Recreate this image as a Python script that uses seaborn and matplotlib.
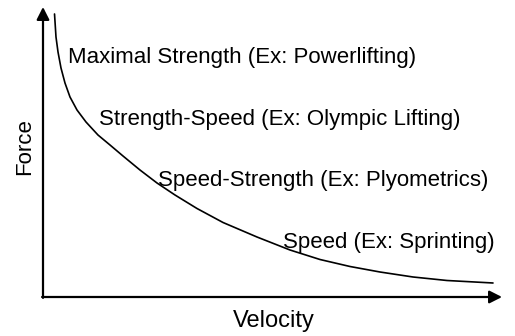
import matplotlib
matplotlib.use("Agg")
import matplotlib.pyplot as plt
import seaborn as sns
import pandas as pd

# Force-velocity curve (relative units, 0..1 on both axes)
velocity = [0.0251, 0.0283, 0.0327, 0.0392, 0.0479, 0.0588, 0.0741, 0.0937,
            0.1198, 0.1460, 0.1743, 0.2113, 0.2484, 0.2876, 0.3355, 0.3922,
            0.4662, 0.5381, 0.6035, 0.6688, 0.7342, 0.8061, 0.8802, 0.9804]
force = [0.9759, 0.8966, 0.8448, 0.7897, 0.7379, 0.6897, 0.6448, 0.6034,
         0.5586, 0.5241, 0.4862, 0.4379, 0.3931, 0.3517, 0.3052, 0.2569,
         0.2069, 0.1621, 0.1293, 0.1052, 0.0862, 0.0690, 0.0569, 0.0483]

zone_labels = ["Maximal Strength (Ex: Powerlifting)",
               "Strength-Speed (Ex: Olympic Lifting)",
               "Speed-Strength (Ex: Plyometrics)",
               "Speed (Ex: Sprinting)"]
zone_x = [0.0545, 0.122, 0.2505, 0.523]
zone_y = [0.807, 0.593, 0.383, 0.169]

x_label = "Velocity"
y_label = "Force"

sns.set_theme(style="white")
plt.rcParams["font.family"] = ["Liberation Sans", "DejaVu Sans"]

W, H = 515, 336
fig = plt.figure(figsize=(W / 100, H / 100), dpi=100)
fig.patch.set_facecolor("white")
ax = fig.add_axes([43 / W, (H - 297) / H, (502 - 43) / W, (297 - 7) / H])
ax.set_facecolor("white")

df = pd.DataFrame({"velocity": velocity, "force": force})
sns.lineplot(data=df, x="velocity", y="force", sort=False, color="black",
             linewidth=1.2, ax=ax)

ax.set_xlim(0, 1)
ax.set_ylim(0, 1)
for s in ["top", "right", "left", "bottom"]:
    ax.spines[s].set_visible(False)
ax.set_xticks([])
ax.set_yticks([])
ax.set_xlabel("")
ax.set_ylabel("")

# axes with arrow heads
arrow_style = dict(arrowstyle="-|>,head_length=0.75,head_width=0.38",
                   mutation_scale=10, lw=1.6, color="black",
                   shrinkA=0, shrinkB=0)
ax.annotate("", xy=(1, 0), xytext=(-0.002, 0), xycoords="axes fraction",
            textcoords="axes fraction", arrowprops=arrow_style, annotation_clip=False)
ax.annotate("", xy=(0, 1), xytext=(0, -0.003), xycoords="axes fraction",
            textcoords="axes fraction", arrowprops=arrow_style, annotation_clip=False)

for lab, x, y in zip(zone_labels, zone_x, zone_y):
    ax.text(x, y, lab, ha="left", va="baseline", fontsize=16, color="black")

fig.text(273.5 / W, (H - 327) / H, x_label, ha="center", va="baseline",
         fontsize=17, color="black")
fig.text(25 / W, (H - 147) / H, y_label, ha="center", va="center",
         rotation=90, fontsize=16, color="black")

fig.savefig("out.png", dpi=100, facecolor="white")
